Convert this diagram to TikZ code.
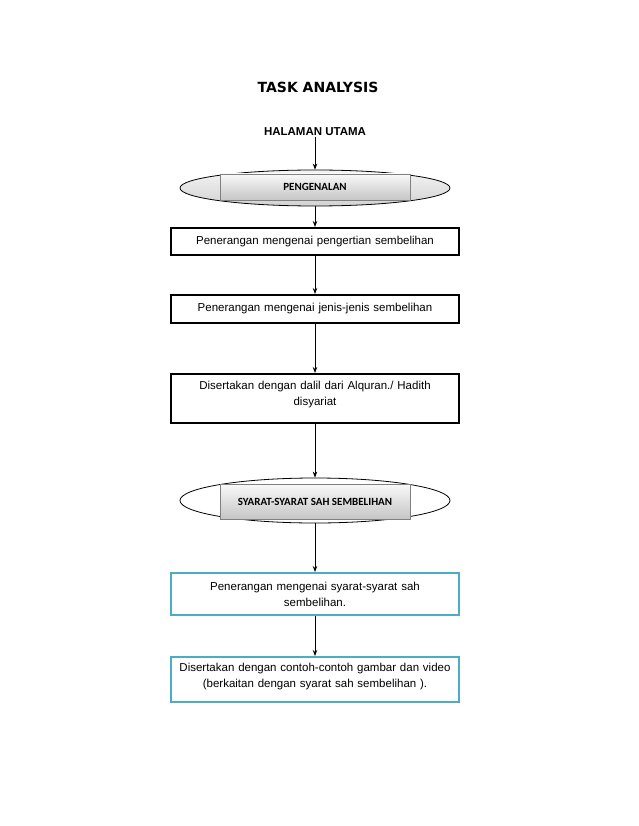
\documentclass[tikz,border=0pt]{standalone}
\usepackage{fontspec}
\setmainfont{Liberation Sans}
\newfontfamily\labelfont{Carlito}
\newfontfamily\titlefont{DejaVu Sans}
\usetikzlibrary{shapes.geometric,arrows.meta}
\definecolor{boxblue}{HTML}{4BACC6}
\newcommand\upbox[2]{\raisebox{#1}[\height][\depth]{\parbox{282pt}{\centering #2}}}
\begin{document}
\begin{tikzpicture}[x=1pt, y=-1pt,
    arr/.style={-{Stealth[length=6pt,width=4.5pt]}, line width=0.8pt},
    stepbox/.style={draw, line width=2pt, minimum width=288pt, align=center,
      text width=282pt, font=\fontsize{11.5}{16}\selectfont, inner sep=0pt},
    bluebox/.style={stepbox, draw=boxblue},
    oval/.style={draw, ellipse, minimum width=270pt, line width=0.8pt},
    band/.style={draw=gray, line width=0.8pt, minimum width=190pt,
      top color=gray!5, bottom color=gray!45, inner sep=0pt,
      font=\labelfont\bfseries\fontsize{11}{13}\selectfont}]
    \useasboundingbox (0,0) rectangle (638,826);
    \node[font=\titlefont\bfseries\fontsize{14}{16}\selectfont] (title) at (318,87) {TASK ANALYSIS};
    \node[font=\bfseries\fontsize{11.5}{14}\selectfont, inner sep=1pt] (utama) at (315,132) {HALAMAN UTAMA};
    \node[oval, minimum height=36pt, top color=gray!8, bottom color=gray!35] (kenal) at (315,188) {};
    \node[band, minimum height=26pt] (kenalband) at (315,187) {PENGENALAN};
    \node[stepbox, minimum height=27pt] (erti) at (315,241.5) {Penerangan mengenai pengertian sembelihan};
    \node[stepbox, minimum height=28pt] (jenis) at (315,309) {Penerangan mengenai jenis-jenis sembelihan};
    \node[stepbox, minimum height=49pt] (dalil) at (315,398.5) {\upbox{4pt}{Disertakan dengan dalil dari Alquran./ Hadith\\disyariat}};
    \node[oval, minimum height=45pt, fill=white] (syarat) at (315,500.5) {};
    \node[band, minimum height=35pt] (syaratband) at (315,501.5) {SYARAT-SYARAT SAH SEMBELIHAN};
    \node[bluebox, minimum height=42pt] (sah) at (315,594) {Penerangan mengenai syarat-syarat sah\\sembelihan.};
    \node[bluebox, minimum height=45pt] (contoh) at (315,679.5) {\upbox{2.5pt}{Disertakan dengan contoh-contoh gambar dan video\\(berkaitan dengan syarat sah sembelihan ).}};
    \draw[arr] (utama) -- (kenal);
    \draw[arr] (kenal) -- (erti);
    \draw[arr] (erti) -- (jenis);
    \draw[arr] (jenis) -- (dalil);
    \draw[arr] (dalil) -- (syarat);
    \draw[arr] (syarat) -- (sah);
    \draw[arr] (sah) -- (contoh);
\end{tikzpicture}
\end{document}
